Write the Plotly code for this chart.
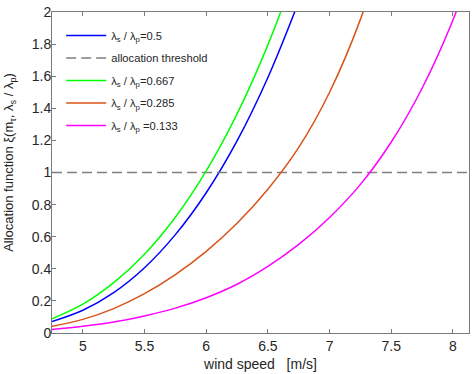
import plotly.graph_objects as go

# ---- data ----
wind_blue = [4.75, 5.0, 5.25, 5.5, 5.75, 6.0, 6.25, 6.5, 6.75]
xi_blue = [0.072, 0.142, 0.252, 0.407, 0.613, 0.874, 1.197, 1.592, 2.065]

wind_green = [4.75, 5.0, 5.25, 5.5, 5.75, 6.0, 6.25, 6.5, 6.75]
xi_green = [0.089, 0.18, 0.314, 0.491, 0.721, 1.01, 1.365, 1.795, 2.31]

wind_orange = [4.75, 5.0, 5.25, 5.5, 5.75, 6.0, 6.25, 6.5, 6.75, 7.0, 7.25, 7.5]
xi_orange = [0.042, 0.085, 0.152, 0.245, 0.364, 0.509, 0.684, 0.896, 1.156, 1.50, 1.954, 2.547]

wind_magenta = [4.75, 5.0, 5.25, 5.5, 5.75, 6.0, 6.25, 6.5, 6.75, 7.0, 7.25, 7.5, 7.75, 8.0, 8.25]
xi_magenta = [0.022, 0.042, 0.068, 0.106, 0.155, 0.220, 0.304, 0.415, 0.552, 0.72, 0.926, 1.19, 1.525, 1.95, 2.49]

threshold_x = [4.75, 8.13]
threshold_y = [1.0, 1.0]

x_ticks = [5, 5.5, 6, 6.5, 7, 7.5, 8]
y_ticks = [0, 0.2, 0.4, 0.6, 0.8, 1, 1.2, 1.4, 1.6, 1.8, 2]

names = {
    "blue": "λ<sub>s</sub> / λ<sub>p</sub>=0.5",
    "thr": "allocation threshold",
    "green": "λ<sub>s</sub> / λ<sub>p</sub>=0.667",
    "orange": "λ<sub>s</sub> / λ<sub>p</sub>=0.285",
    "magenta": "λ<sub>s</sub> / λ<sub>p</sub> =0.133",
}
y_title = "Allocation function ξ(m<sub>τ</sub>, λ<sub>s</sub> / λ<sub>p</sub>)"
x_title = "wind speed\u00a0\u00a0\u00a0[m/s]"

FONT = "Liberation Sans, Arial, sans-serif"
AX = "#7a7a7a"
TXT = "#262626"
SPL = dict(shape="spline", smoothing=1.0)

fig = go.Figure()
fig.add_trace(go.Scatter(x=wind_blue, y=xi_blue, mode="lines", name=names["blue"], legendgroup="a",
                         line=dict(color="#0000ff", width=1.5, **SPL)))
fig.add_trace(go.Scatter(x=threshold_x, y=threshold_y, mode="lines", name=names["thr"], legendgroup="b",
                         line=dict(color="#7f7f7f", width=1.5, dash="10px,5px")))
fig.add_trace(go.Scatter(x=wind_green, y=xi_green, mode="lines", name=names["green"], legendgroup="c",
                         line=dict(color="#00ff00", width=1.5, **SPL)))
fig.add_trace(go.Scatter(x=wind_orange, y=xi_orange, mode="lines", name=names["orange"], legendgroup="d",
                         line=dict(color="#d95319", width=1.5, **SPL)))
fig.add_trace(go.Scatter(x=wind_magenta, y=xi_magenta, mode="lines", name=names["magenta"], legendgroup="e",
                         line=dict(color="#ff00ff", width=1.5, **SPL)))

fig.update_layout(
    width=474, height=374,
    margin=dict(l=52, r=4, t=4, b=41),
    paper_bgcolor="white", plot_bgcolor="white",
    font=dict(family=FONT, size=14, color=TXT),
    showlegend=True,
    legend=dict(x=0.022, y=0.972, xanchor="left", yanchor="top",
                bgcolor="rgba(255,255,255,0)", borderwidth=0, itemwidth=40,
                font=dict(size=11.2, color=TXT), tracegroupgap=3.5),
    xaxis=dict(range=[4.75, 8.13], tickvals=x_ticks, ticks="inside", ticklen=4,
               tickcolor=AX, showline=True, linecolor=AX, linewidth=1, mirror="ticks",
               showgrid=False, zeroline=False, tickfont=dict(size=14),
               title=dict(text=x_title, font=dict(size=14), standoff=6)),
    yaxis=dict(range=[0, 2], tickvals=y_ticks, ticks="inside", ticklen=4,
               tickcolor=AX, showline=True, linecolor=AX, linewidth=1, mirror=True,
               showgrid=False, zeroline=False, tickfont=dict(size=14), ticklabelstandoff=-3,
               ticklabeloverflow="allow"),
    yaxis2=dict(overlaying="y", side="right", range=[-0.062, 6.70], dtick=1,
                ticks="inside", ticklen=4, tickcolor=AX, showticklabels=False,
                showline=True, linecolor=AX, showgrid=False, zeroline=False),
    annotations=[dict(text=y_title, textangle=-90, xref="paper", yref="paper",
                      x=0, y=0.53, xanchor="center", yanchor="middle", xshift=-42,
                      showarrow=False, font=dict(size=13, color=TXT))],
)

fig.write_html("out.html", config={"displayModeBar": False},
               post_script="document.body.style.margin='0px';document.body.style.padding='0px';")
